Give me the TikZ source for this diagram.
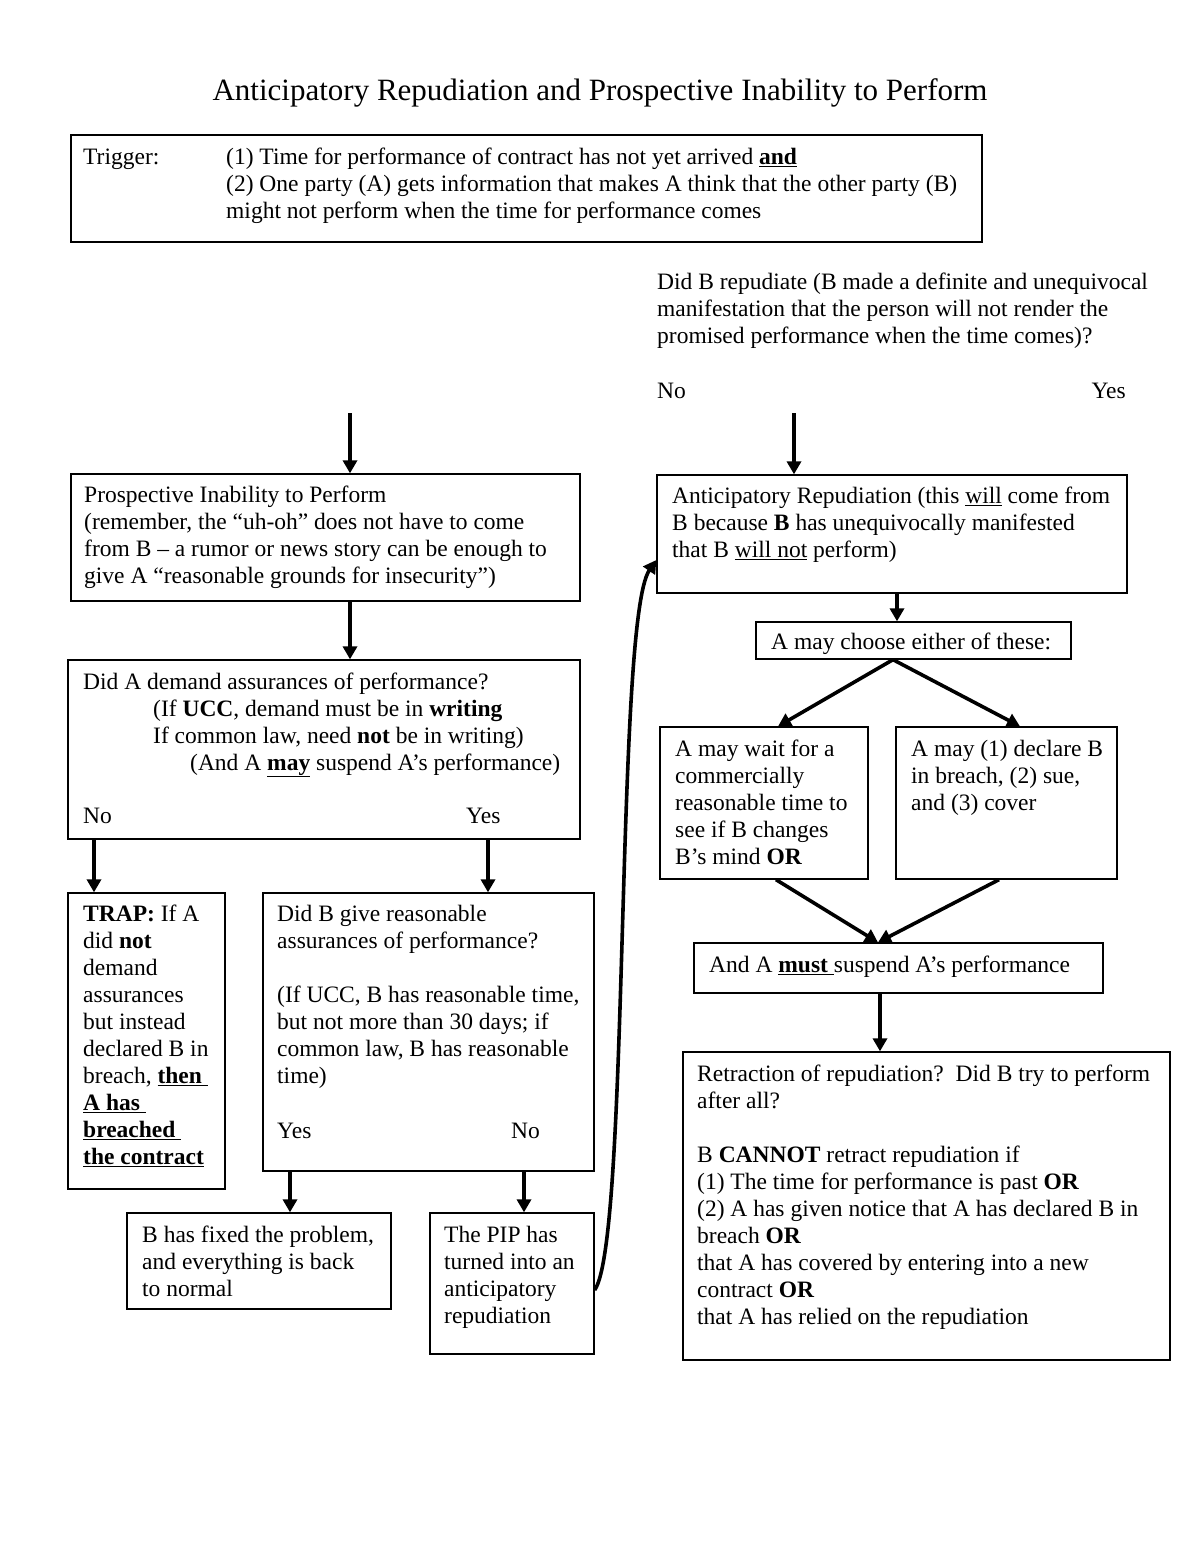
\documentclass[tikz,border=0pt]{standalone}
\usepackage{fontspec}
\setmainfont{Liberation Serif}
\usetikzlibrary{arrows.meta,fit}
\begin{document}
\begin{tikzpicture}[x=1pt,y=-1pt,
  box/.style={draw, line width=1.3pt, inner sep=0pt},
  txt/.style={anchor=north west, inner sep=0pt, align=left, font=\fontsize{23.5}{27}\selectfont},
  arr/.style={line width=3.6pt, -{Triangle[length=13pt,width=14pt]}}]
\useasboundingbox (0,0) rectangle (1200,1553);
% title
\node[anchor=base, inner sep=0pt, font=\fontsize{31}{36}\selectfont] (title) at (600,100) {Anticipatory Repudiation and Prospective Inability to Perform};
% boxes
\node[box, fit={(71,135) (982,242)}] (trig) {};
\node[box, fit={(71,474) (580,601)}] (pip) {};
\node[box, fit={(68,660) (580,839)}] (dida) {};
\node[box, fit={(68,893) (225,1189)}] (trap) {};
\node[box, fit={(263,893) (594,1171)}] (didb) {};
\node[box, fit={(127,1213) (391,1309)}] (fixed) {};
\node[box, fit={(430,1213) (594,1354)}] (turned) {};
\node[box, fit={(657,475) (1127,593)}] (ar) {};
\node[box, fit={(756,622) (1071,659)}] (choose) {};
\node[box, fit={(660,727) (868,879)}] (wait) {};
\node[box, fit={(896,727) (1117,879)}] (declare) {};
\node[box, fit={(694,943) (1103,993)}] (must) {};
\node[box, fit={(683,1052) (1170,1360)}] (retr) {};
% texts
\node[txt] (trigL) at (83,145) {\strut Trigger:};
\node[txt] (trigT) at (226,145) {\strut(1) Time for performance of contract has not yet arrived \textbf{\underline{and}}\\(2) One party (A) gets information that makes A think that the other party (B)\\might not perform when the time for performance comes};
\node[txt] (repq) at (657,270) {\strut Did B repudiate (B made a definite and unequivocal\\manifestation that the person will not render the\\promised performance when the time comes)?};
\node[txt] (repNo) at (657,379) {\strut No};
\node[txt, anchor=north east] (repYes) at (1126,379) {\strut Yes};
\node[txt] (pipT) at (84,483) {\strut Prospective Inability to Perform\\(remember, the “uh-oh” does not have to come\\from B – a rumor or news story can be enough to\\give A “reasonable grounds for insecurity”)};
\node[txt] (didaT) at (83,670) {\strut Did A demand assurances of performance?\\\hspace*{70pt}(If \textbf{UCC}, demand must be in \textbf{writing}\\\hspace*{70pt}If common law, need \textbf{not} be in writing)\\\hspace*{107pt}(And A \textbf{\underline{may}} suspend A’s performance)};
\node[txt] (didaNo) at (83,804) {\strut No};
\node[txt] (didaYes) at (466,804) {\strut Yes};
\node[txt] (trapT) at (83,902) {\strut\textbf{TRAP:} If A\\did \textbf{not}\\demand\\assurances\\but instead\\declared B in\\breach, \textbf{\underline{then\ }}\\\textbf{\underline{A has\ }}\\\textbf{\underline{breached\ }}\\\textbf{\underline{the contract}}};
\node[txt] (didbT) at (277,902) {\strut Did B give reasonable\\assurances of performance?\\[27pt](If UCC, B has reasonable time,\\but not more than 30 days; if\\common law, B has reasonable\\time)};
\node[txt] (didbYes) at (277,1119) {\strut Yes};
\node[txt] (didbNo) at (511,1119) {\strut No};
\node[txt] (fixedT) at (142,1223) {\strut B has fixed the problem,\\and everything is back\\to normal};
\node[txt] (turnedT) at (444,1223) {\strut The PIP has\\turned into an\\anticipatory\\repudiation};
\node[txt] (arT) at (672,484) {\strut Anticipatory Repudiation (this \underline{will} come from\\B because \textbf{B} has unequivocally manifested\\that B \underline{will not} perform)};
\node[txt] (chooseT) at (771,630) {\strut A may choose either of these:};
\node[txt] (waitT) at (675,737) {\strut A may wait for a\\commercially\\reasonable time to\\see if B changes\\B’s mind \textbf{OR}};
\node[txt] (declareT) at (911,737) {\strut A may (1) declare B\\in breach, (2) sue,\\and (3) cover};
\node[txt] (mustT) at (709,953) {\strut And A \textbf{\underline{must\ }}suspend A’s performance};
\node[txt] (retrT) at (697,1062) {\strut Retraction of repudiation?\ \ Did B try to perform\\after all?\\[27pt]B \textbf{CANNOT} retract repudiation if\\(1) The time for performance is past \textbf{OR}\\(2) A has given notice that A has declared B in\\breach \textbf{OR}\\that A has covered by entering into a new\\contract \textbf{OR}\\that A has relied on the repudiation};
% connector helper coordinates
\coordinate (noStart) at (350,413);
\coordinate (yesStart) at (794,413);
\coordinate (xNo) at (94,0);
\coordinate (xYes) at (488,0);
\coordinate (xFix) at (290,0);
\coordinate (xTurn) at (524,0);
\coordinate (xAR) at (897,0);
\coordinate (xFork) at (893,0);
\coordinate (xWaitIn) at (778,0);
\coordinate (xDeclIn) at (1020,0);
\coordinate (xWaitOut) at (776,0);
\coordinate (xDeclOut) at (999,0);
\coordinate (xMustIn) at (878,0);
\coordinate (xMust) at (880,0);
\coordinate (yCurveS) at (0,1290);
\coordinate (yCurveE) at (0,560);
% connectors
\draw[arr] (noStart) -- (noStart |- pip.north);
\draw[arr] (yesStart) -- (yesStart |- ar.north);
\draw[arr] (pip.south -| noStart) -- (dida.north -| noStart);
\draw[arr] (dida.south -| xNo) -- (trap.north -| xNo);
\draw[arr] (dida.south -| xYes) -- (didb.north -| xYes);
\draw[arr] (didb.south -| xFix) -- (fixed.north -| xFix);
\draw[arr] (didb.south -| xTurn) -- (turned.north -| xTurn);
\draw[arr] (ar.south -| xAR) -- (choose.north -| xAR);
\draw[arr] (choose.south -| xFork) -- (wait.north -| xWaitIn);
\draw[arr] (choose.south -| xFork) -- (declare.north -| xDeclIn);
\draw[arr] (wait.south -| xWaitOut) -- (must.north -| xMustIn);
\draw[arr] (declare.south -| xDeclOut) -- (must.north -| xMustIn);
\draw[arr] (must.south -| xMust) -- (retr.north -| xMust);
\draw[arr] (turned.east |- yCurveS) .. controls (630,1240) and (615,620) .. (ar.west |- yCurveE);
\end{tikzpicture}
\end{document}
